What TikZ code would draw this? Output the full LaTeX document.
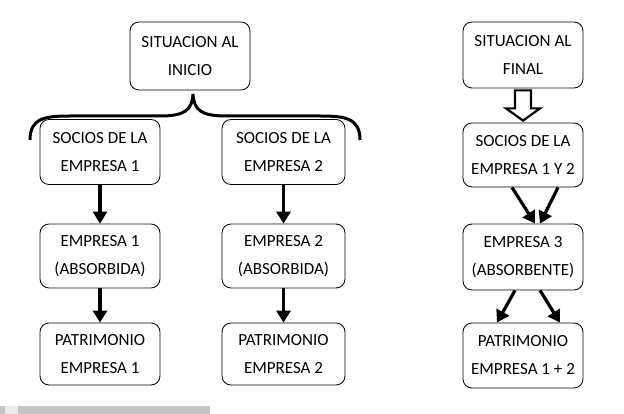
\documentclass[tikz,border=0pt]{standalone}
\usepackage{fontspec}
\setmainfont{Carlito}
\usetikzlibrary{arrows.meta,calc}
\begin{document}
\begin{tikzpicture}[x=1pt,y=-1pt,
  box/.style={draw,thick,rounded corners=9pt,align=center,font=\fontsize{17}{28}\selectfont,inner sep=0pt},
  arr/.style={line width=3.2pt,-{Triangle[length=12pt,width=14pt]}}]
\useasboundingbox (0,0) rectangle (624,414);
\fill[gray!45] (0,406) rectangle (210,414);
\fill[white!85!gray] (5,406) rectangle (18,414);
\node[box,minimum width=120pt,minimum height=68pt] (ti) at (190,56) {SITUACION AL\\INICIO};
\node[box,minimum width=120pt,minimum height=66pt] (tf) at (523,55) {SITUACION AL\\FINAL};
\node[box,minimum width=120pt,minimum height=65pt] (s1) at (100,152) {SOCIOS DE LA\\EMPRESA 1};
\node[box,minimum width=123pt,minimum height=65pt] (s2) at (283.5,152) {SOCIOS DE LA\\EMPRESA 2};
\node[box,minimum width=120pt,minimum height=64pt] (s3) at (523,155) {SOCIOS DE LA\\EMPRESA 1 Y 2};
\node[box,minimum width=120pt,minimum height=64pt] (e1) at (100,256) {EMPRESA 1\\(ABSORBIDA)};
\node[box,minimum width=123pt,minimum height=64pt] (e2) at (283.5,256) {EMPRESA 2\\(ABSORBIDA)};
\node[box,minimum width=120pt,minimum height=66pt] (e3) at (523,257) {EMPRESA 3\\(ABSORBENTE)};
\node[box,minimum width=120pt,minimum height=62pt] (p1) at (100,354) {PATRIMONIO\\EMPRESA 1};
\node[box,minimum width=123pt,minimum height=62pt] (p2) at (283.5,354) {PATRIMONIO\\EMPRESA 2};
\node[box,minimum width=120pt,minimum height=65pt] (p3) at (523,355.5) {PATRIMONIO\\EMPRESA 1 + 2};
% brace
\coordinate (bl) at (30,140);
\coordinate (bt) at (193,94);
\coordinate (br) at (360,140);
\draw[line width=3pt] (bl) .. controls (30,118) and (45,116) .. (70,116) -- (160,116) .. controls (185,116) and (192,110) .. (bt)
  .. controls (194,110) and (201,116) .. (226,116) -- (320,116) .. controls (345,116) and (360,118) .. (br);
% open arrow
\draw[line width=2.2pt,fill=white,line join=miter] ($(tf.south)+(-8,2)$) -- ++(0,18) -- ++(-9,0) -- ($(s3.north)+(0,-2)$) -- ($(tf.south)+(17,20)$) -- ++(-9,0) -- ($(tf.south)+(8,2)$) -- cycle;
% arrows
\draw[arr] (s1) -- (e1);
\draw[arr] (e1) -- (p1);
\draw[arr] (s2) -- (e2);
\draw[arr] (e2) -- (p2);
\draw[arr] ($(s3.south)+(-11,0)$) -- ($(e3.north)+(12,0)$);
\draw[arr] ($(s3.south)+(35,0)$) -- ($(e3.north)+(17,0)$);
\draw[arr] ($(e3.south)+(-8,0)$) -- ($(p3.north)+(-26,0)$);
\draw[arr] ($(e3.south)+(17,0)$) -- ($(p3.north)+(37,0)$);
\end{tikzpicture}
\end{document}
